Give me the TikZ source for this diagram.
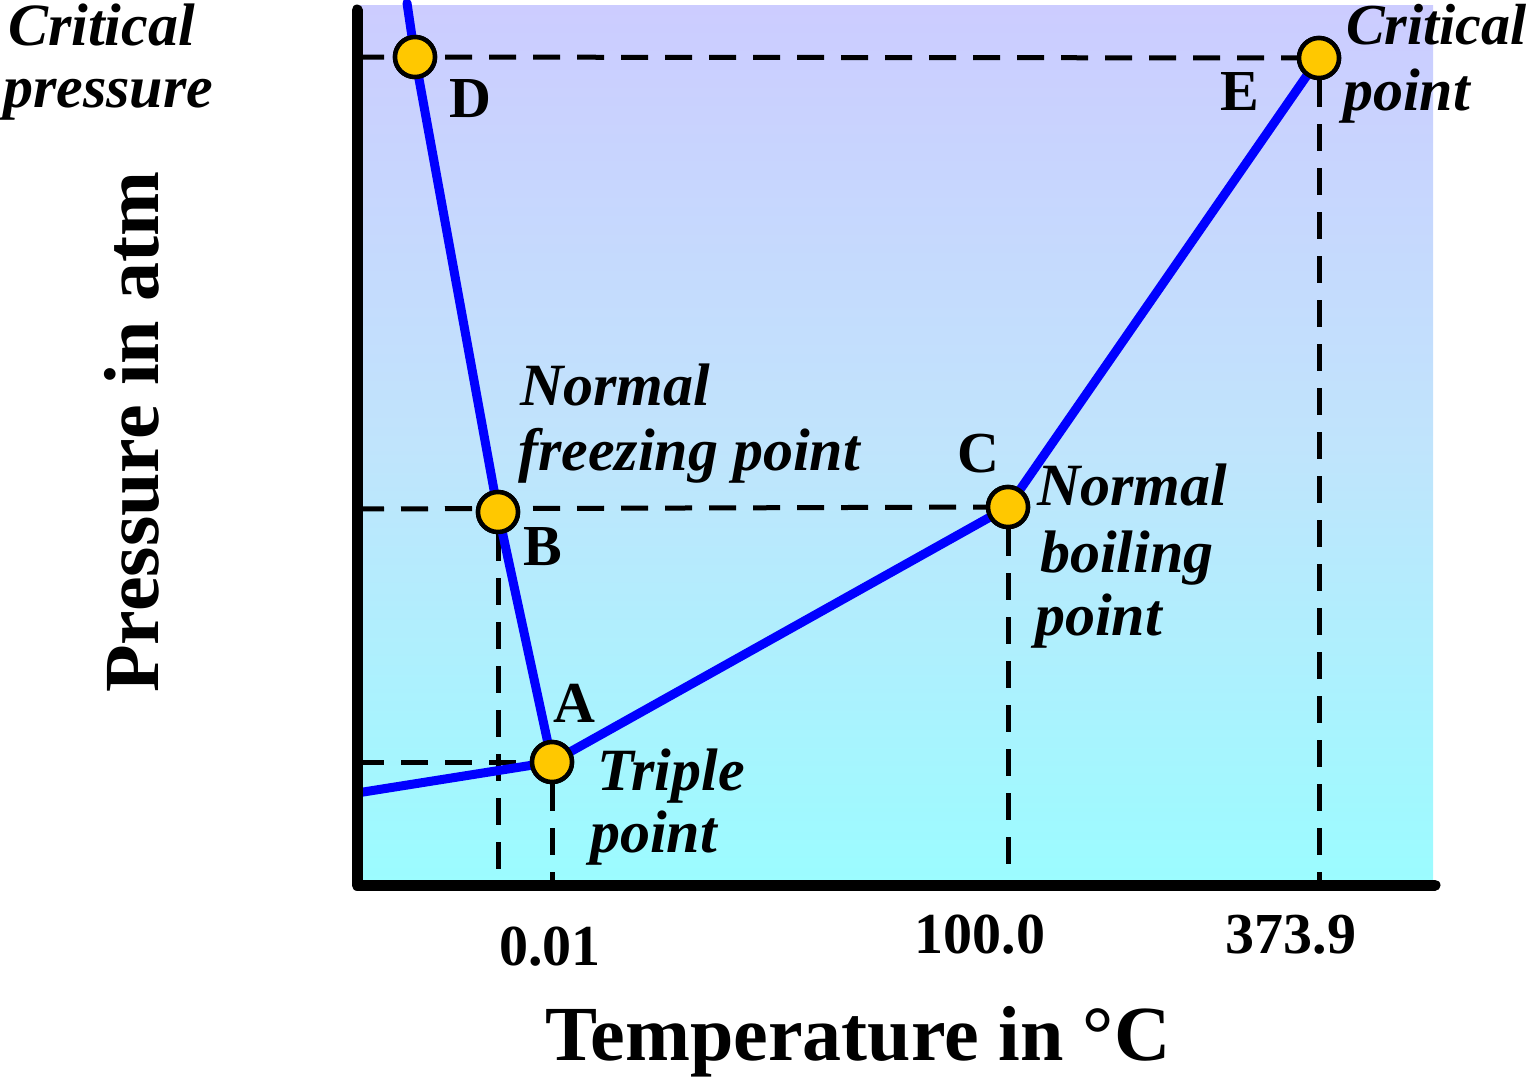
\documentclass[tikz,border=0pt]{standalone}
\usepackage{fontspec}
\setmainfont{Liberation Serif}
\definecolor{ptyellow}{RGB}{255,200,0}
\definecolor{pblue}{RGB}{0,0,255}
\definecolor{bgtop}{RGB}{204,204,255}
\definecolor{bgbot}{RGB}{155,252,255}
\begin{document}
\begin{tikzpicture}[x=1pt,y=-1pt,
  ptnode/.style={circle,draw=black,line width=4.5pt,fill=ptyellow,minimum size=40pt,inner sep=0pt},
  guide/.style={line width=5pt,dash pattern=on 27pt off 17pt},
  curveline/.style={line width=9pt,draw=pblue,line cap=round,line join=round},
  lbl/.style={font=\fontsize{58}{60}\selectfont\bfseries,anchor=base,inner sep=0pt},
  note/.style={font=\fontsize{60}{62}\selectfont\bfseries\itshape,anchor=base west,inner sep=0pt},
  title/.style={font=\fontsize{78}{80}\selectfont\bfseries,anchor=base,inner sep=0pt}]
\useasboundingbox (0,0) rectangle (1536,1079);
% background
\shade[top color=bgtop,bottom color=bgbot,middle color={rgb,255:red,192;green,228;blue,252}] (357,5) rectangle (1433,885);
% points
\coordinate (top) at (407,3);
\coordinate (left) at (357,793);
\node[ptnode] (D) at (415,57) {};
\node[ptnode] (B) at (498,512) {};
\node[ptnode] (A) at (552,762) {};
\node[ptnode] (C) at (1008,507) {};
\node[ptnode] (E) at (1319,58) {};
% axis coordinates
\coordinate (yD) at (357,57);
\coordinate (yB) at (357,509);
\coordinate (yA) at (357,762);
\coordinate (xB) at (498,885);
\coordinate (xA) at (552,885);
\coordinate (xC) at (1008,885);
\coordinate (xE) at (1319,885);
\coordinate (o) at (357,885);
\coordinate (ytop) at (357,10);
\coordinate (xend) at (1435,885);
% guides
\draw[guide] (yD) -- (E);
\draw[guide] (yB) -- (C);
\draw[guide] (yA) -- (A);
\draw[guide] (B) -- (xB);
\draw[guide] (A) -- (xA);
\draw[guide] (C) -- (xC);
\draw[guide] (E) -- (xE);
% curves
\draw[curveline] (top) -- (D.center) -- (B.center) -- (A.center);
\draw[curveline] (left) -- (A.center) -- (C.center) -- (E.center);
% redraw points on top
\node[ptnode] at (D) {};
\node[ptnode] at (B) {};
\node[ptnode] at (A) {};
\node[ptnode] at (C) {};
\node[ptnode] at (E) {};
% axes
\draw[line width=11pt,line cap=round,line join=round] (ytop) -- (o) -- (xend);
% point labels
\node[lbl] (lD) at (470,117) {D};
\node[lbl] (lE) at (1240,110) {E};
\node[lbl] (lB) at (543,565) {B};
\node[lbl] (lA) at (574,722) {A};
\node[lbl] (lC) at (978,472) {C};
% notes
\node[note] (n1) at (8,45) {Critical};
\node[note] (n2) at (3,107) {pressure};
\node[note,font=\fontsize{58}{60}\selectfont\bfseries\itshape] (n3) at (1346,44) {Critical};
\node[note] (n4) at (1343,110) {point};
\node[note] (n5) at (520,405) {Normal};
\node[note] (n6) at (518,470) {freezing point};
\node[note] (n7) at (1037,505) {Normal};
\node[note] (n8) at (1040,572) {boiling};
\node[note] (n9) at (1035,635) {point};
\node[note] (n10) at (597,790) {Triple};
\node[note] (n11) at (590,852) {point};
% ticks
\node[lbl] (t1) at (550,965) {0.01};
\node[lbl] (t2) at (980,953) {100.0};
\node[lbl] (t3) at (1291,953) {373.9};
% titles
\node[title] (tx) at (858,1060) {Temperature in °C};
\node[title,rotate=90] (ty) at (158,432) {Pressure in atm};
\end{tikzpicture}
\end{document}
